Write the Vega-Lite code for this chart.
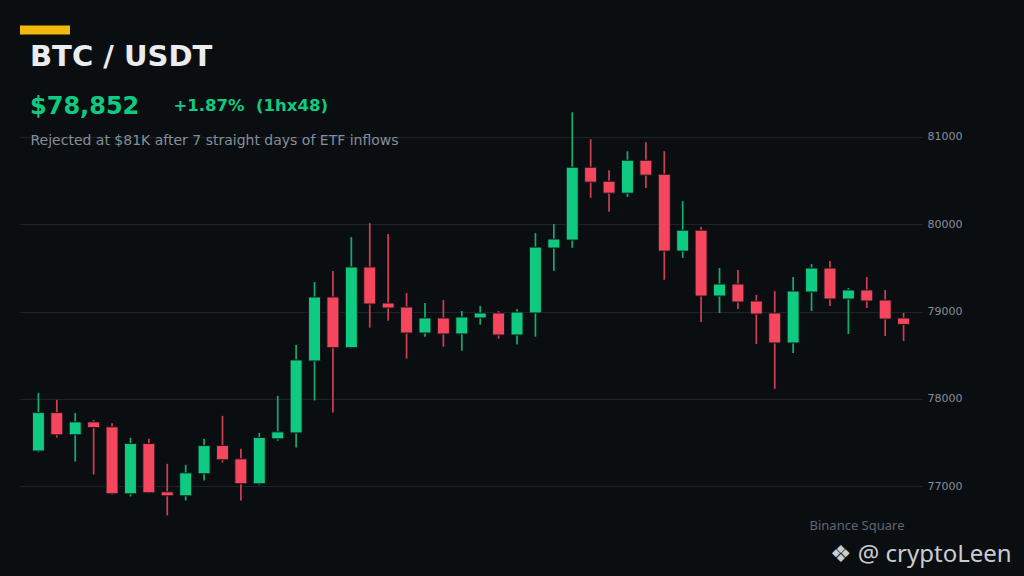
{
  "$schema": "https://vega.github.io/schema/vega-lite/v6.json",
  "width": 902,
  "height": 437,
  "autosize": {"type": "none"},
  "padding": {"left": 20, "top": 93, "right": 102, "bottom": 46},
  "background": "#0b0e11",
  "config": {"view": {"stroke": null}, "font": "DejaVu Sans"},
  "title": {
    "text": "BTC / USDT",
    "subtitle": "$78,852",
    "anchor": "start",
    "frame": "group",
    "dx": 10,
    "offset": -114,
    "font": "DejaVu Sans",
    "fontSize": 29,
    "fontWeight": "bold",
    "color": "#eaecef",
    "subtitleFont": "DejaVu Sans",
    "subtitleFontSize": 24,
    "subtitleFontWeight": "bold",
    "subtitleColor": "#0ecb81",
    "subtitlePadding": 23
  },
  "data": {
    "values": [
      {"i": 0, "open": 77404, "high": 78069, "low": 77390, "close": 77843, "dir": "up"},
      {"i": 1, "open": 77843, "high": 77989, "low": 77558, "close": 77589, "dir": "down"},
      {"i": 2, "open": 77589, "high": 77837, "low": 77283, "close": 77737, "dir": "up"},
      {"i": 3, "open": 77737, "high": 77760, "low": 77135, "close": 77672, "dir": "down"},
      {"i": 4, "open": 77680, "high": 77722, "low": 76905, "close": 76914, "dir": "down"},
      {"i": 5, "open": 76914, "high": 77554, "low": 76883, "close": 77489, "dir": "up"},
      {"i": 6, "open": 77489, "high": 77543, "low": 76920, "close": 76926, "dir": "down"},
      {"i": 7, "open": 76937, "high": 77257, "low": 76666, "close": 76891, "dir": "down"},
      {"i": 8, "open": 76891, "high": 77246, "low": 76838, "close": 77154, "dir": "up"},
      {"i": 9, "open": 77143, "high": 77543, "low": 77066, "close": 77466, "dir": "up"},
      {"i": 10, "open": 77466, "high": 77806, "low": 77272, "close": 77303, "dir": "down"},
      {"i": 11, "open": 77314, "high": 77429, "low": 76838, "close": 77029, "dir": "down"},
      {"i": 12, "open": 77029, "high": 77611, "low": 77017, "close": 77558, "dir": "up"},
      {"i": 13, "open": 77543, "high": 78034, "low": 77520, "close": 77623, "dir": "up"},
      {"i": 14, "open": 77611, "high": 78617, "low": 77443, "close": 78446, "dir": "up"},
      {"i": 15, "open": 78434, "high": 79337, "low": 77981, "close": 79166, "dir": "up"},
      {"i": 16, "open": 79166, "high": 79463, "low": 77843, "close": 78586, "dir": "down"},
      {"i": 17, "open": 78586, "high": 79851, "low": 78580, "close": 79509, "dir": "up"},
      {"i": 18, "open": 79509, "high": 80011, "low": 78815, "close": 79086, "dir": "down"},
      {"i": 19, "open": 79097, "high": 79886, "low": 78895, "close": 79040, "dir": "down"},
      {"i": 20, "open": 79051, "high": 79211, "low": 78461, "close": 78754, "dir": "down"},
      {"i": 21, "open": 78754, "high": 79097, "low": 78712, "close": 78926, "dir": "up"},
      {"i": 22, "open": 78926, "high": 79131, "low": 78598, "close": 78743, "dir": "down"},
      {"i": 23, "open": 78743, "high": 79006, "low": 78552, "close": 78937, "dir": "up"},
      {"i": 24, "open": 78926, "high": 79063, "low": 78849, "close": 78983, "dir": "up"},
      {"i": 25, "open": 78983, "high": 79006, "low": 78689, "close": 78731, "dir": "down"},
      {"i": 26, "open": 78731, "high": 79029, "low": 78621, "close": 78994, "dir": "up"},
      {"i": 27, "open": 78983, "high": 79897, "low": 78712, "close": 79737, "dir": "up"},
      {"i": 28, "open": 79726, "high": 80000, "low": 79466, "close": 79829, "dir": "up"},
      {"i": 29, "open": 79817, "high": 81280, "low": 79729, "close": 80651, "dir": "up"},
      {"i": 30, "open": 80651, "high": 80971, "low": 80301, "close": 80480, "dir": "down"},
      {"i": 31, "open": 80491, "high": 80617, "low": 80141, "close": 80354, "dir": "down"},
      {"i": 32, "open": 80354, "high": 80834, "low": 80311, "close": 80731, "dir": "up"},
      {"i": 33, "open": 80731, "high": 80937, "low": 80414, "close": 80560, "dir": "down"},
      {"i": 34, "open": 80571, "high": 80834, "low": 79363, "close": 79691, "dir": "down"},
      {"i": 35, "open": 79691, "high": 80263, "low": 79614, "close": 79931, "dir": "up"},
      {"i": 36, "open": 79931, "high": 79966, "low": 78880, "close": 79177, "dir": "down"},
      {"i": 37, "open": 79177, "high": 79497, "low": 78983, "close": 79314, "dir": "up"},
      {"i": 38, "open": 79314, "high": 79474, "low": 79029, "close": 79109, "dir": "down"},
      {"i": 39, "open": 79120, "high": 79189, "low": 78629, "close": 78971, "dir": "down"},
      {"i": 40, "open": 78983, "high": 79234, "low": 78114, "close": 78640, "dir": "down"},
      {"i": 41, "open": 78640, "high": 79394, "low": 78526, "close": 79234, "dir": "up"},
      {"i": 42, "open": 79223, "high": 79543, "low": 79006, "close": 79497, "dir": "up"},
      {"i": 43, "open": 79497, "high": 79577, "low": 79063, "close": 79143, "dir": "down"},
      {"i": 44, "open": 79143, "high": 79269, "low": 78743, "close": 79246, "dir": "up"},
      {"i": 45, "open": 79246, "high": 79394, "low": 79040, "close": 79120, "dir": "down"},
      {"i": 46, "open": 79131, "high": 79246, "low": 78720, "close": 78914, "dir": "down"},
      {"i": 47, "open": 78926, "high": 78983, "low": 78663, "close": 78852, "dir": "down"}
    ]
  },
  "layer": [
    {
      "mark": {"type": "rule", "strokeWidth": 1.7, "opacity": 0.85},
      "encoding": {
        "x": {
          "field": "i",
          "type": "quantitative",
          "scale": {"domain": [-1, 48], "nice": false, "zero": false, "padding": 0},
          "axis": {
            "orient": "bottom",
            "labels": false,
            "ticks": false,
            "domain": false,
            "grid": false,
            "title": "+1.87% \u00a0(1hx48)",
            "titleX": 153,
            "titleY": -420,
            "titleAlign": "left",
            "titleBaseline": "alphabetic",
            "titleFont": "DejaVu Sans",
            "titleFontSize": 16.5,
            "titleFontWeight": "bold",
            "titleColor": "#0ecb81"
          }
        },
        "y": {
          "field": "low",
          "type": "quantitative",
          "scale": {"domain": [76500, 81500], "nice": false, "zero": false},
          "axis": {
            "orient": "right",
            "values": [77000, 78000, 79000, 80000, 81000],
            "ticks": false,
            "domain": false,
            "grid": true,
            "gridColor": "#1e2329",
            "gridWidth": 1,
            "labelColor": "#848e9c",
            "labelFont": "DejaVu Sans",
            "labelFontSize": 11,
            "labelPadding": 5,
            "format": "d",
            "title": "Binance Square",
            "titleX": -113,
            "titleY": 436,
            "titleAngle": 0,
            "titleAlign": "left",
            "titleBaseline": "alphabetic",
            "titleFont": "Noto Sans",
            "titleFontSize": 13,
            "titleFontWeight": "normal",
            "titleColor": "#5e6673"
          }
        },
        "y2": {"field": "high"},
        "color": {
          "condition": {"test": "datum.dir == 'up'", "value": "#0ecb81"},
          "value": "#f6465d"
        }
      }
    },
    {
      "mark": {"type": "bar", "orient": "vertical", "width": 12, "stroke": "#14171b", "strokeWidth": 1, "cornerRadius": 1},
      "encoding": {
        "x": {
          "field": "i",
          "type": "quantitative",
          "scale": {"domain": [-1, 48], "nice": false, "zero": false, "padding": 0},
          "axis": {
            "orient": "top",
            "labels": false,
            "ticks": false,
            "domain": false,
            "grid": false,
            "title": "Rejected at $81K after 7 straight days of ETF inflows",
            "titleX": 10,
            "titleY": 51.5,
            "titleAlign": "left",
            "titleBaseline": "alphabetic",
            "titleFont": "DejaVu Sans",
            "titleFontSize": 14,
            "titleFontWeight": "normal",
            "titleColor": "#848e9c"
          }
        },
        "y": {
          "field": "open",
          "type": "quantitative",
          "scale": {"domain": [76500, 81500], "nice": false, "zero": false},
          "axis": {
            "orient": "left",
            "labels": false,
            "ticks": false,
            "domain": false,
            "grid": false,
            "title": "❖ @ cryptoLeen",
            "titleX": 809,
            "titleY": 468.5,
            "titleAngle": 0,
            "titleAlign": "left",
            "titleBaseline": "alphabetic",
            "titleFont": "Noto Sans",
            "titleFontSize": 24,
            "titleFontWeight": "normal",
            "titleColor": "#c9ccd1"
          }
        },
        "y2": {"field": "close"},
        "color": {
          "field": "dir",
          "type": "nominal",
          "scale": {"domain": ["up", "down", "accent"], "range": ["#0ecb81", "#f6465d", "#f0b90b"]},
          "legend": {
            "values": ["accent"],
            "orient": "none",
            "legendX": 0,
            "legendY": -88,
            "title": null,
            "padding": 0,
            "symbolType": "M-1,-0.18H1V0.18H-1Z",
            "symbolSize": 2500,
            "symbolStrokeWidth": 0,
            "symbolOpacity": 1,
            "labelExpr": "''",
            "labelFontSize": 1
          }
        }
      }
    }
  ],
  "resolve": {"axis": {"x": "independent", "y": "independent"}}
}
